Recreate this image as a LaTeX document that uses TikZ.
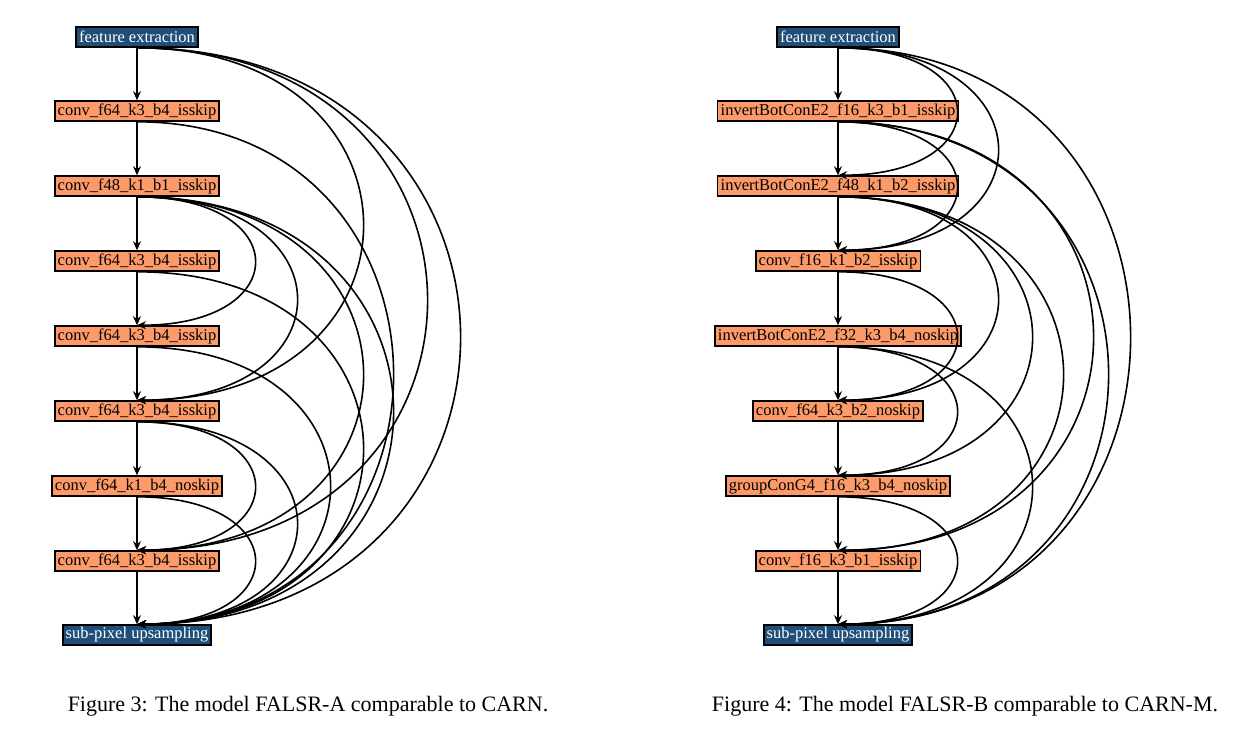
\documentclass[tikz,border=0pt]{standalone}
\usepackage{fontspec}
\setmainfont{Liberation Serif}
\usetikzlibrary{arrows.meta}
\definecolor{orn}{HTML}{FC9A6A}
\definecolor{blu}{HTML}{1F4E79}
\tikzset{
  box/.style={draw=black,line width=1.6pt,fill=orn,inner xsep=3pt,inner ysep=0pt,minimum height=20pt,font=\fontsize{16.5}{18}\selectfont},
  io/.style={box,fill=blu,text=white},
  edge/.style={line width=1.6pt,-{Stealth[length=9pt,width=8pt,inset=3pt]}},
  figcap/.style={font=\fontsize{22}{24}\selectfont}
}
\newcommand{\arc}[3]{\draw[edge] (#1.south) .. controls +(#3*1.333,0) and +(#3*1.333,0) .. (#2.north);}
\begin{document}
\begin{tikzpicture}[x=1pt,y=-1pt]
\useasboundingbox (0,0) rectangle (1252,731);
% left
\node[io] (a0) at (137,37) {feature extraction};
\node[box] (a1) at (137,111) {conv\_f64\_k3\_b4\_isskip};
\node[box] (a2) at (137,186) {conv\_f48\_k1\_b1\_isskip};
\node[box] (a3) at (137,261) {conv\_f64\_k3\_b4\_isskip};
\node[box] (a4) at (137,336) {conv\_f64\_k3\_b4\_isskip};
\node[box] (a5) at (137,411) {conv\_f64\_k3\_b4\_isskip};
\node[box] (a6) at (137,486) {conv\_f64\_k1\_b4\_noskip};
\node[box] (a7) at (137,561) {conv\_f64\_k3\_b4\_isskip};
\node[io] (a8) at (137,635) {sub-pixel upsampling};
\foreach \i/\j in {0/1,1/2,2/3,3/4,4/5,5/6,6/7,7/8} \draw[edge] (a\i) -- (a\j);
\arc{a0}{a5}{226} \arc{a0}{a7}{290} \arc{a0}{a8}{323}
\arc{a1}{a8}{256}
\arc{a2}{a4}{118} \arc{a2}{a5}{160} \arc{a2}{a7}{226} \arc{a2}{a8}{256}
\arc{a3}{a8}{226} \arc{a4}{a8}{193}
\arc{a5}{a7}{118} \arc{a5}{a8}{160} \arc{a6}{a8}{118}
\node[figcap] (c3) at (308,706) {Figure 3: The model FALSR-A comparable to CARN.};
% right
\node[io] (b0) at (838,37) {feature extraction};
\node[box] (b1) at (838,111) {invertBotConE2\_f16\_k3\_b1\_isskip};
\node[box] (b2) at (838,186) {invertBotConE2\_f48\_k1\_b2\_isskip};
\node[box] (b3) at (838,261) {conv\_f16\_k1\_b2\_isskip};
\node[box] (b4) at (838,336) {invertBotConE2\_f32\_k3\_b4\_noskip};
\node[box] (b5) at (838,411) {conv\_f64\_k3\_b2\_noskip};
\node[box] (b6) at (838,486) {groupConG4\_f16\_k3\_b4\_noskip};
\node[box] (b7) at (838,561) {conv\_f16\_k3\_b1\_isskip};
\node[io] (b8) at (838,635) {sub-pixel upsampling};
\foreach \i/\j in {0/1,1/2,2/3,3/4,4/5,5/6,6/7,7/8} \draw[edge] (b\i) -- (b\j);
\arc{b0}{b2}{119} \arc{b0}{b3}{160} \arc{b0}{b8}{292}
\arc{b1}{b3}{119} \arc{b1}{b7}{255} \arc{b1}{b8}{270}
\arc{b2}{b5}{160} \arc{b2}{b6}{194} \arc{b2}{b7}{225}
\arc{b3}{b5}{119} \arc{b4}{b6}{119} \arc{b4}{b8}{194}
\arc{b6}{b8}{119}
\node[figcap] (c4) at (965,706) {Figure 4: The model FALSR-B comparable to CARN-M.};
\end{tikzpicture}
\end{document}
